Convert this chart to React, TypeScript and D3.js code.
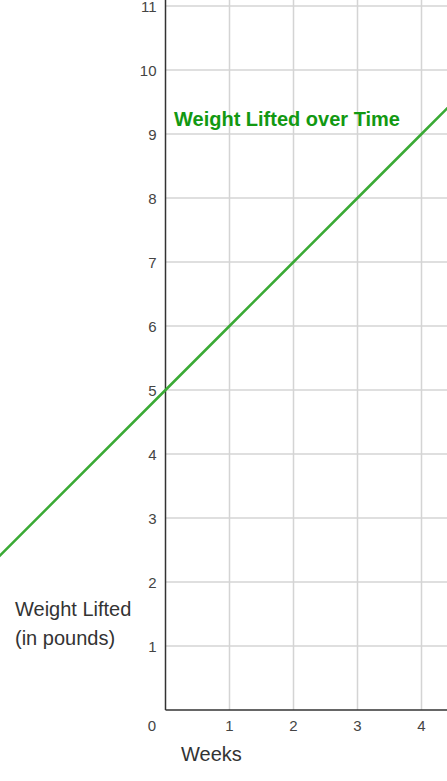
import { scaleLinear, line } from "d3";

// y = week + 5, the line runs past both edges of the plot
const weeks = [-3, 0, 1, 2, 3, 4, 5];
const weights = [2, 5, 6, 7, 8, 9, 10];
const xTicks = [1, 2, 3, 4];
const yTicks = [1, 2, 3, 4, 5, 6, 7, 8, 9, 10, 11];

const title = "Weight Lifted over Time";
const xTitle = "Weeks";
const yTitle = ["Weight Lifted", "(in pounds)"];

export default function App() {
  const width = 447;
  const height = 781;
  const originX = 165.5;
  const originY = 710;
  const unit = 64;

  const x = scaleLinear().domain([0, 1]).range([originX, originX + unit]);
  const y = scaleLinear().domain([0, 1]).range([originY, originY - unit]);

  const points = weeks.map((w, i) => [w, weights[i]] as [number, number]);
  const path = line<[number, number]>()
    .x((d) => x(d[0]))
    .y((d) => y(d[1]))(points);

  const font = "Arial, 'Liberation Sans', sans-serif";

  return (
    <svg
      width={width}
      height={height}
      style={{ position: "absolute", left: 0, top: 0, background: "#fff" }}
      fontFamily={font}
    >
      <defs>
        <clipPath id="view">
          <rect x={0} y={0} width={width} height={originY} />
        </clipPath>
      </defs>

      {xTicks.map((t) => (
        <line key={`gx${t}`} x1={x(t)} x2={x(t)} y1={0} y2={originY} stroke="#d4d4d4" strokeWidth={1.5} />
      ))}
      {yTicks.map((t) => (
        <line key={`gy${t}`} x1={originX} x2={width} y1={y(t)} y2={y(t)} stroke="#d4d4d4" strokeWidth={1.5} />
      ))}

      <line x1={originX} x2={originX} y1={0} y2={originY} stroke="#333" strokeWidth={1.5} />
      <line x1={originX} x2={width} y1={originY} y2={originY} stroke="#333" strokeWidth={1.5} />

      {yTicks.map((t) => (
        <text key={`ly${t}`} x={originX - 9} y={y(t) + 6.2} textAnchor="end" fontSize={15} fill="#444">
          {t}
        </text>
      ))}
      <text x={originX - 13.5} y={originY + 20.5} textAnchor="middle" fontSize={15} fill="#444">0</text>
      {xTicks.map((t) => (
        <text key={`lx${t}`} x={x(t)} y={originY + 20.5} textAnchor="middle" fontSize={15} fill="#444">
          {t}
        </text>
      ))}

      <path d={path ?? ""} fill="none" stroke="#3aaa35" strokeWidth={2.5} clipPath="url(#view)" />

      <text x={174} y={126} fontSize={20} fontWeight="bold" fill="#129912">{title}</text>
      <text x={181} y={761} fontSize={20} fill="#333">{xTitle}</text>
      {yTitle.map((s, i) => (
        <text key={s} x={15} y={616 + i * 29} fontSize={20} fill="#333">{s}</text>
      ))}
    </svg>
  );
}
